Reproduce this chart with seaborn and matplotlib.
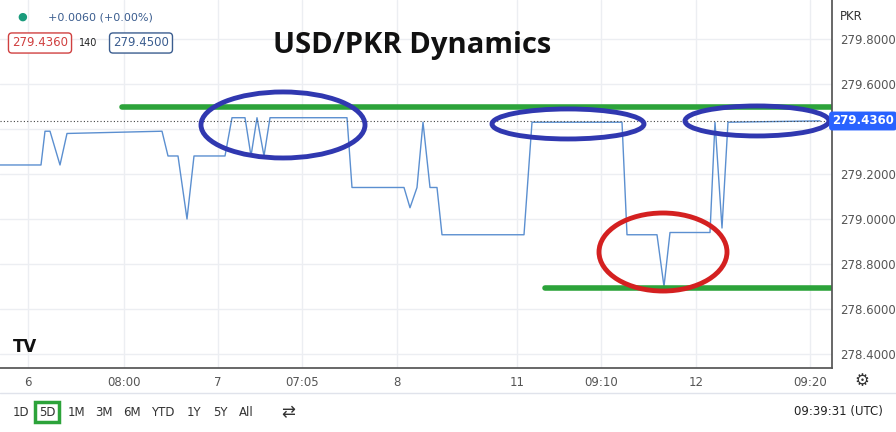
import matplotlib
matplotlib.use("Agg")
import matplotlib.pyplot as plt
import seaborn as sns
import pandas as pd
from matplotlib.patches import Ellipse

sns.set_theme(style="white")
plt.rcParams['font.family'] = ['DejaVu Sans']

bar_x = [0, 41, 45, 50, 60, 67, 162, 168, 178, 187, 194, 225, 232, 245, 251, 257, 264, 270, 347, 352,
         404, 410, 417, 423, 430, 437, 442, 524, 532, 622, 627, 657, 664, 670, 710, 715, 722, 728, 820]
price = [279.24, 279.24, 279.39, 279.39, 279.24, 279.38, 279.39, 279.28, 279.28, 279.00, 279.28, 279.28,
         279.45, 279.45, 279.28, 279.45, 279.28, 279.45, 279.45, 279.14, 279.14, 279.05, 279.14, 279.43,
         279.14, 279.14, 278.93, 278.93, 279.43, 279.43, 278.93, 278.93, 278.70, 278.94, 278.94, 279.43,
         278.96, 279.43, 279.436]
tick_pos = [28, 124, 218, 302, 397, 517, 601, 696, 810]
tick_labels = ["6", "08:00", "7", "07:05", "8", "11", "09:10", "12", "09:20"]
y_ticks = [278.4, 278.6, 278.8, 279.0, 279.2, 279.4, 279.6, 279.8]
resistance = 279.498
support = 278.693
last_price = 279.436

W, H = 896, 432
fig = plt.figure(figsize=(8.96, 4.32), dpi=100)
ax = fig.add_axes([0, 1 - 368 / H, 832 / W, 368 / H])
df = pd.DataFrame({"x": bar_x, "p": price})
sns.lineplot(data=df, x="x", y="p", ax=ax, color="#5b8fd0", linewidth=1)
ax.set_xlim(0, 832)
ax.set_ylim(278.338, 279.973)
grid = "#eceef2"
for t in tick_pos:
    ax.axvline(t, color=grid, lw=1, zorder=0)
for t in y_ticks:
    ax.axhline(t, color=grid, lw=1, zorder=0)
ax.yaxis.tick_right()
ax.set_yticks(y_ticks)
ax.set_yticklabels(["" if abs(v - 279.4) < 1e-6 else f"{v:.4f}" for v in y_ticks], fontsize=8.5, color="#555")
ax.set_xticks(tick_pos)
ax.set_xticklabels(tick_labels, fontsize=8.5, color="#555")
ax.tick_params(length=0, pad=6)
ax.set_xlabel(""); ax.set_ylabel("")
for s in ["top", "left"]:
    ax.spines[s].set_visible(False)
ax.spines["right"].set_color("#555"); ax.spines["bottom"].set_color("#555")

ax.axhline(last_price, color="#444", lw=0.8, ls=(0, (1, 2)))
ax.plot([122, 832], [resistance, resistance], color="#2ca33a", lw=4, solid_capstyle="round")
ax.plot([545, 832], [support, support], color="#2ca33a", lw=4, solid_capstyle="round")

def ell(cx, cy, w, h, c):
    yv = 279.8 - (cy - 39) / 225
    ax.add_patch(Ellipse((cx, yv), w, h / 225, fill=False, ec=c, lw=3.5, zorder=5))
ell(283, 125, 164, 66, "#3038b0")
ell(568, 124, 152, 30, "#3038b0")
ell(757, 121, 144, 30, "#3038b0")
ell(663, 252, 128, 78, "#d42020")

fig.text(412 / W, 1 - 46 / H, "USD/PKR Dynamics", fontsize=21, fontweight="bold",
         ha="center", va="center", color="#111", family=["Open Sans", "DejaVu Sans"])
fig.text(840 / W, 1 - 17 / H, "PKR", fontsize=8.5, va="center", color="#333")
fig.text(863 / W, 1 - 121 / H, "279.4360", fontsize=8.5, ha="center", va="center", color="white",
         fontweight="bold", bbox=dict(boxstyle="round,pad=0.25", fc="#2962ff", ec="none"))
fig.text(22 / W, 1 - 17 / H, "\u25cf", fontsize=8, color="#1a9b7c", ha="center", va="center")
fig.text(48 / W, 1 - 17 / H, "+0.0060 (+0.00%)", fontsize=8, color="#3b5d8f", va="center")
fig.text(40 / W, 1 - 43 / H, "279.4360", fontsize=8.5, color="#d04040", ha="center", va="center",
         bbox=dict(boxstyle="round,pad=0.3", fc="white", ec="#d04040"))
fig.text(88 / W, 1 - 43 / H, "140", fontsize=7, color="#222", ha="center", va="center")
fig.text(141 / W, 1 - 43 / H, "279.4500", fontsize=8.5, color="#3b5d8f", ha="center", va="center",
         bbox=dict(boxstyle="round,pad=0.3", fc="white", ec="#3b5d8f"))
fig.text(25 / W, 1 - 347 / H, "TV", fontsize=12, fontweight="bold", color="#111", ha="center", va="center")
fig.text(862 / W, 1 - 381 / H, "\u2699", fontsize=12, color="#333", ha="center", va="center")

fig.add_artist(plt.Line2D([0, 1], [1 - 393 / H] * 2, color="#e0e3eb", lw=1))
btns = [("1D", 21), ("5D", 47), ("1M", 76), ("3M", 104), ("6M", 132), ("YTD", 163), ("1Y", 194), ("5Y", 220), ("All", 246)]
for lab, x in btns:
    fig.text(x / W, 1 - 412 / H, lab, fontsize=8.5, color="#333", ha="center", va="center",
             bbox=dict(boxstyle="square,pad=0.3", fc="none", ec="#2ca33a", lw=2.5) if lab == "5D" else None)
fig.text(288 / W, 1 - 412 / H, "\u21c4", fontsize=12, color="#333", ha="center", va="center")
fig.text(883 / W, 1 - 412 / H, "09:39:31 (UTC)", fontsize=8.5, color="#222", ha="right", va="center")

fig.savefig("out.png", dpi=100)
